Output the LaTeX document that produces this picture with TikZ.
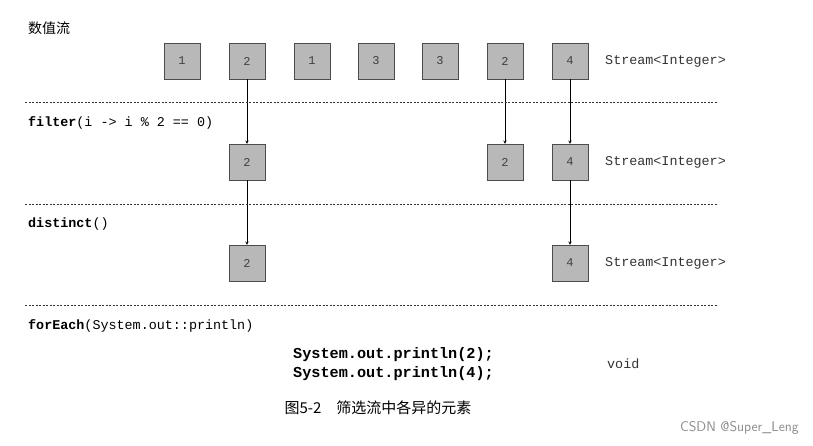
\documentclass[tikz,border=0pt]{standalone}
\usepackage{fontspec}
\setmonofont{Liberation Mono}
\setmainfont{Liberation Serif}
\newfontfamily\cjk{Noto Sans CJK SC}
\begin{document}
\begin{tikzpicture}[x=1pt,y=-1pt,
  box/.style={draw=black!70,fill=black!28,minimum size=36pt,inner sep=0pt,font=\ttfamily\fontsize{12}{12}\selectfont,text=black!75},
  lbl/.style={anchor=west,font=\ttfamily\fontsize{13.4}{13.4}\selectfont,inner sep=0pt},
  sep/.style={dashed,dash pattern=on 2pt off 1.5pt,black!80,line width=0.5pt},
  arr/.style={->,>=stealth,line width=0.5pt}]
\useasboundingbox (0,0) rectangle (813,445);
\node[anchor=west,inner sep=0pt,font=\cjk\fontsize{14}{14}\selectfont] (t) at (28,28) {数值流};
\foreach \n/\x/\v in {a/182/1,b/247/2,c/312/1,d/376/3,e/440/3,f/505/2,g/570/4}
  \node[box] (\n) at (\x,61) {\v};
\node[box] (b2) at (247,162) {2};
\node[box] (f2) at (505,162) {2};
\node[box] (g2) at (570,162) {4};
\node[box] (b3) at (247,263) {2};
\node[box] (g3) at (570,263) {4};
\draw[arr] (b) -- (b2); \draw[arr] (f) -- (f2); \draw[arr] (g) -- (g2);
\draw[arr] (b2) -- (b3); \draw[arr] (g2) -- (g3);
\foreach \y in {102,204,305} \draw[sep] (25,\y) -- (718,\y);
\foreach \y/\k in {61/s1,162/s2,263/s3} \node[lbl,text=black!80] (\k) at (605,\y) {Stream<Integer>};
\node[lbl] (f) at (28,123) {\textbf{filter}(i -> i \% 2 == 0)};
\node[lbl] (d) at (28,224) {\textbf{distinct}()};
\node[lbl] (fe) at (28,326) {\textbf{forEach}(System.out::println)};
\node[lbl,font=\ttfamily\bfseries\fontsize{15.2}{15.2}\selectfont] (p1) at (293,355) {System.out.println(2);};
\node[lbl,font=\ttfamily\bfseries\fontsize{15.2}{15.2}\selectfont] (p2) at (293,374) {System.out.println(4);};
\node[lbl,text=black!80] (v) at (607,364) {void};
\node[inner sep=0pt,font=\cjk\fontsize{15}{15}\selectfont] (cap) at (378,408) {图5-2\quad 筛选流中各异的元素};
\node[anchor=east,inner sep=0pt,text=black!45,font=\sffamily\fontsize{14}{14}\selectfont] (w) at (799,428) {CSDN @Super\_Leng};
\end{tikzpicture}
\end{document}
